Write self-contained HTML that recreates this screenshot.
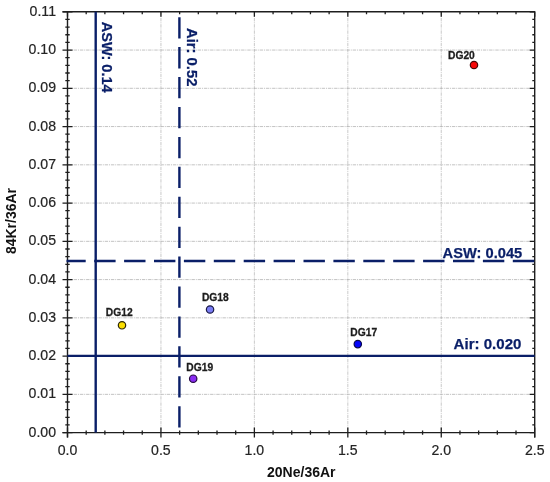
<!DOCTYPE html>
<html lang="en"><head><meta charset="utf-8"><title>84Kr/36Ar vs 20Ne/36Ar</title>
<style>html,body{margin:0;padding:0;background:#fff;}svg{display:block;}.t{font-family:"Liberation Sans",Arial,sans-serif;font-size:14.1px;fill:#242424;stroke:#242424;stroke-width:0.2px;}.b{font-family:"Liberation Sans",Arial,sans-serif;font-weight:bold;font-size:14px;fill:#111;}.d{font-family:"Liberation Sans",Arial,sans-serif;font-weight:bold;font-size:11.3px;fill:#1c1c1c;stroke:#1c1c1c;stroke-width:0.3px;}.n{font-family:"Liberation Sans",Arial,sans-serif;font-weight:bold;font-size:15.5px;fill:#0a1f68;stroke:#0a1f68;stroke-width:0.25px;}</style></head><body>
<svg width="550" height="482" viewBox="0 0 550 482">
<rect width="550" height="482" fill="#fff"/>
<g stroke-width="0.6" stroke-dasharray="3.4 0.9 1 0.9" fill="none"><line x1="67.5" x2="534.7" y1="394.35" y2="394.35" stroke="#9a9a9a"/><line x1="67.5" x2="534.7" y1="356.09" y2="356.09" stroke="#9a9a9a"/><line x1="67.5" x2="534.7" y1="317.84" y2="317.84" stroke="#9a9a9a"/><line x1="67.5" x2="534.7" y1="279.58" y2="279.58" stroke="#9a9a9a"/><line x1="67.5" x2="534.7" y1="241.33" y2="241.33" stroke="#9a9a9a"/><line x1="67.5" x2="534.7" y1="203.07" y2="203.07" stroke="#9a9a9a"/><line x1="67.5" x2="534.7" y1="164.82" y2="164.82" stroke="#9a9a9a"/><line x1="67.5" x2="534.7" y1="126.56" y2="126.56" stroke="#9a9a9a"/><line x1="67.5" x2="534.7" y1="88.31" y2="88.31" stroke="#9a9a9a"/><line x1="67.5" x2="534.7" y1="50.05" y2="50.05" stroke="#9a9a9a"/><line y1="11.8" y2="432.6" x1="160.94" x2="160.94" stroke="#a6a6a6"/><line y1="11.8" y2="432.6" x1="254.38" x2="254.38" stroke="#a6a6a6"/><line y1="11.8" y2="432.6" x1="347.82" x2="347.82" stroke="#a6a6a6"/><line y1="11.8" y2="432.6" x1="441.26" x2="441.26" stroke="#a6a6a6"/></g>
<path d="M62.5 432.60H72.5M529.7 432.60H534.7M65.3 424.95H69.7M532.3 424.95H534.7M65.3 417.30H69.7M532.3 417.30H534.7M65.3 409.65H69.7M532.3 409.65H534.7M65.3 402.00H69.7M532.3 402.00H534.7M62.5 394.35H72.5M529.7 394.35H534.7M65.3 386.69H69.7M532.3 386.69H534.7M65.3 379.04H69.7M532.3 379.04H534.7M65.3 371.39H69.7M532.3 371.39H534.7M65.3 363.74H69.7M532.3 363.74H534.7M62.5 356.09H72.5M529.7 356.09H534.7M65.3 348.44H69.7M532.3 348.44H534.7M65.3 340.79H69.7M532.3 340.79H534.7M65.3 333.14H69.7M532.3 333.14H534.7M65.3 325.49H69.7M532.3 325.49H534.7M62.5 317.84H72.5M529.7 317.84H534.7M65.3 310.19H69.7M532.3 310.19H534.7M65.3 302.53H69.7M532.3 302.53H534.7M65.3 294.88H69.7M532.3 294.88H534.7M65.3 287.23H69.7M532.3 287.23H534.7M62.5 279.58H72.5M529.7 279.58H534.7M65.3 271.93H69.7M532.3 271.93H534.7M65.3 264.28H69.7M532.3 264.28H534.7M65.3 256.63H69.7M532.3 256.63H534.7M65.3 248.98H69.7M532.3 248.98H534.7M62.5 241.33H72.5M529.7 241.33H534.7M65.3 233.68H69.7M532.3 233.68H534.7M65.3 226.03H69.7M532.3 226.03H534.7M65.3 218.37H69.7M532.3 218.37H534.7M65.3 210.72H69.7M532.3 210.72H534.7M62.5 203.07H72.5M529.7 203.07H534.7M65.3 195.42H69.7M532.3 195.42H534.7M65.3 187.77H69.7M532.3 187.77H534.7M65.3 180.12H69.7M532.3 180.12H534.7M65.3 172.47H69.7M532.3 172.47H534.7M62.5 164.82H72.5M529.7 164.82H534.7M65.3 157.17H69.7M532.3 157.17H534.7M65.3 149.52H69.7M532.3 149.52H534.7M65.3 141.87H69.7M532.3 141.87H534.7M65.3 134.21H69.7M532.3 134.21H534.7M62.5 126.56H72.5M529.7 126.56H534.7M65.3 118.91H69.7M532.3 118.91H534.7M65.3 111.26H69.7M532.3 111.26H534.7M65.3 103.61H69.7M532.3 103.61H534.7M65.3 95.96H69.7M532.3 95.96H534.7M62.5 88.31H72.5M529.7 88.31H534.7M65.3 80.66H69.7M532.3 80.66H534.7M65.3 73.01H69.7M532.3 73.01H534.7M65.3 65.36H69.7M532.3 65.36H534.7M65.3 57.71H69.7M532.3 57.71H534.7M62.5 50.05H72.5M529.7 50.05H534.7M65.3 42.40H69.7M532.3 42.40H534.7M65.3 34.75H69.7M532.3 34.75H534.7M65.3 27.10H69.7M532.3 27.10H534.7M65.3 19.45H69.7M532.3 19.45H534.7M62.5 11.80H72.5M529.7 11.80H534.7M67.50 427.6V437.6M67.50 11.8V16.8M86.19 430.4V434.8M86.19 11.8V14.2M104.88 430.4V434.8M104.88 11.8V14.2M123.56 430.4V434.8M123.56 11.8V14.2M142.25 430.4V434.8M142.25 11.8V14.2M160.94 427.6V437.6M160.94 11.8V16.8M179.63 430.4V434.8M179.63 11.8V14.2M198.32 430.4V434.8M198.32 11.8V14.2M217.00 430.4V434.8M217.00 11.8V14.2M235.69 430.4V434.8M235.69 11.8V14.2M254.38 427.6V437.6M254.38 11.8V16.8M273.07 430.4V434.8M273.07 11.8V14.2M291.76 430.4V434.8M291.76 11.8V14.2M310.44 430.4V434.8M310.44 11.8V14.2M329.13 430.4V434.8M329.13 11.8V14.2M347.82 427.6V437.6M347.82 11.8V16.8M366.51 430.4V434.8M366.51 11.8V14.2M385.20 430.4V434.8M385.20 11.8V14.2M403.88 430.4V434.8M403.88 11.8V14.2M422.57 430.4V434.8M422.57 11.8V14.2M441.26 427.6V437.6M441.26 11.8V16.8M459.95 430.4V434.8M459.95 11.8V14.2M478.64 430.4V434.8M478.64 11.8V14.2M497.32 430.4V434.8M497.32 11.8V14.2M516.01 430.4V434.8M516.01 11.8V14.2M534.70 427.6V437.6M534.70 11.8V16.8" stroke="#1e1e1e" stroke-width="1.3" fill="none"/>
<path d="M62.5 11.8H535.3M534.7 11.8V437.6M67.5 11.8V437.6M62.5 432.6H535.3" stroke="#1e1e1e" stroke-width="1.4" fill="none"/>
<g stroke="#0a1f68" stroke-width="2.4" fill="none">
<line x1="95.7" x2="95.7" y1="11.8" y2="432.6"/>
<line x1="179.4" x2="179.4" y1="17.2" y2="432.6" stroke-dasharray="21.3 8.62"/>
<line x1="66.5" x2="534.7" y1="261" y2="261" stroke-dasharray="21.4 8.5" stroke-dashoffset="2.2"/>
<line x1="67.5" x2="534.7" y1="355.9" y2="355.9"/>
</g>
<text class="t" x="56" y="436.5" text-anchor="end">0.00</text>
<text class="t" x="56" y="398.2" text-anchor="end">0.01</text>
<text class="t" x="56" y="360.0" text-anchor="end">0.02</text>
<text class="t" x="56" y="321.7" text-anchor="end">0.03</text>
<text class="t" x="56" y="283.5" text-anchor="end">0.04</text>
<text class="t" x="56" y="245.2" text-anchor="end">0.05</text>
<text class="t" x="56" y="207.0" text-anchor="end">0.06</text>
<text class="t" x="56" y="168.7" text-anchor="end">0.07</text>
<text class="t" x="56" y="130.5" text-anchor="end">0.08</text>
<text class="t" x="56" y="92.2" text-anchor="end">0.09</text>
<text class="t" x="56" y="54.0" text-anchor="end">0.10</text>
<text class="t" x="56" y="15.7" text-anchor="end">0.11</text>
<text class="t" x="67.5" y="454.5" text-anchor="middle">0.0</text>
<text class="t" x="160.9" y="454.5" text-anchor="middle">0.5</text>
<text class="t" x="254.4" y="454.5" text-anchor="middle">1.0</text>
<text class="t" x="347.8" y="454.5" text-anchor="middle">1.5</text>
<text class="t" x="441.3" y="454.5" text-anchor="middle">2.0</text>
<text class="t" x="534.7" y="454.5" text-anchor="middle">2.5</text>
<text class="b" x="301.3" y="476.7" text-anchor="middle">20Ne/36Ar</text>
<text class="b" transform="translate(16.4 221) rotate(-90)" text-anchor="middle">84Kr/36Ar</text>
<text class="n" transform="translate(101.6 21.7) rotate(90)" textLength="71" lengthAdjust="spacingAndGlyphs">ASW: 0.14</text>
<text class="n" transform="translate(187.2 28) rotate(90)" textLength="58.4" lengthAdjust="spacingAndGlyphs">Air: 0.52</text>
<text class="n" x="442.6" y="257.8" textLength="79.6" lengthAdjust="spacingAndGlyphs">ASW: 0.045</text>
<text class="n" x="453.6" y="349.2" textLength="67.8" lengthAdjust="spacingAndGlyphs">Air: 0.020</text>
<circle cx="122.0" cy="325.3" r="3.7" fill="#fbde00" stroke="#2c2608" stroke-width="1.2"/>
<text class="d" x="105.8" y="316.3" textLength="26.8" lengthAdjust="spacingAndGlyphs">DG12</text>
<circle cx="210.05" cy="309.5" r="3.7" fill="#7a7df4" stroke="#1a1a44" stroke-width="1.2"/>
<text class="d" x="201.9" y="301.0" textLength="26.8" lengthAdjust="spacingAndGlyphs">DG18</text>
<circle cx="193.2" cy="378.7" r="3.7" fill="#8a2cf2" stroke="#260c40" stroke-width="1.2"/>
<text class="d" x="186.3" y="371.2" textLength="26.8" lengthAdjust="spacingAndGlyphs">DG19</text>
<circle cx="357.8" cy="344.1" r="3.7" fill="#0404fa" stroke="#08084a" stroke-width="1.2"/>
<text class="d" x="350.3" y="336.1" textLength="26.8" lengthAdjust="spacingAndGlyphs">DG17</text>
<circle cx="474.0" cy="65.0" r="3.7" fill="#f80808" stroke="#4a0808" stroke-width="1.2"/>
<text class="d" x="448.0" y="59.1" textLength="26.8" lengthAdjust="spacingAndGlyphs">DG20</text>
</svg></body></html>
